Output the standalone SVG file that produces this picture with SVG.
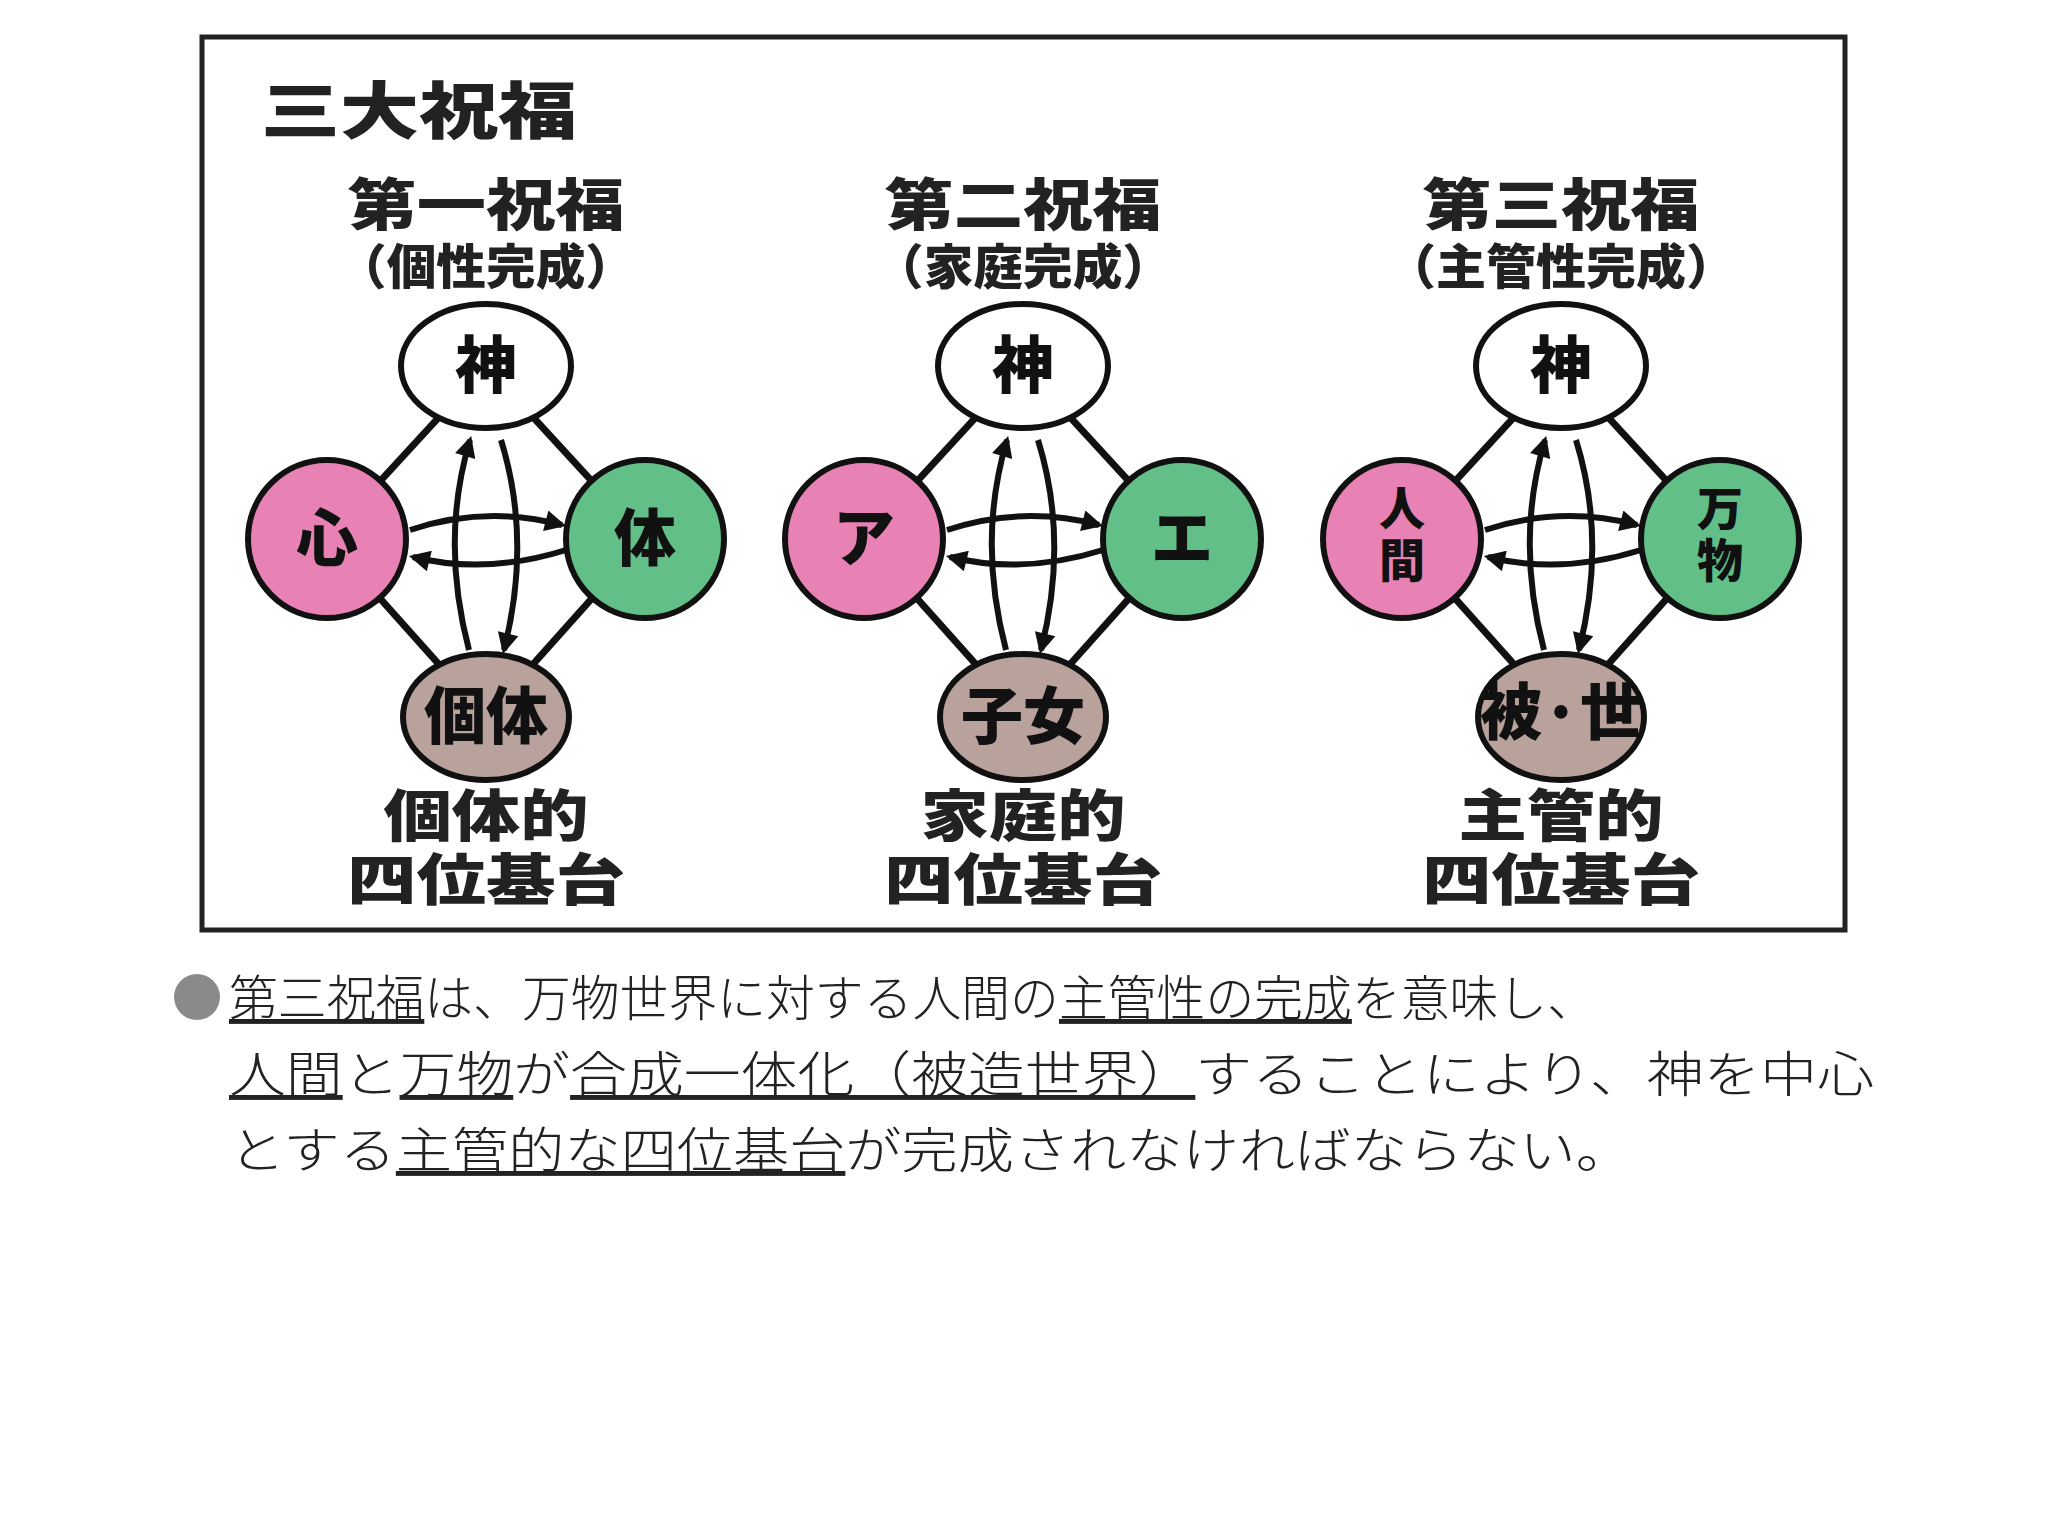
<svg xmlns="http://www.w3.org/2000/svg" width="2048" height="1536" viewBox="0 0 2048 1536">
<style>
.h{font-family:"Noto Sans CJK JP","Noto Sans CJK SC",sans-serif;font-weight:900;fill:#222;text-anchor:middle}
.n{font-family:"Noto Sans CJK JP","Noto Sans CJK SC",sans-serif;font-weight:900;fill:#111;text-anchor:middle;font-size:62px}
.n2{font-family:"Noto Sans CJK JP","Noto Sans CJK SC",sans-serif;font-weight:900;fill:#111;text-anchor:middle;font-size:46px}
.c{stroke:#111;stroke-width:6}
.w{fill:#fff}.p{fill:#e882b4}.g{fill:#62bf88}.b{fill:#b9a29b}
.e{stroke:#111;stroke-width:7}
.a{stroke:#111;stroke-width:6;fill:none;marker-end:url(#ah)}
.t{font-family:"Noto Sans CJK JP","Noto Sans CJK SC",sans-serif;font-weight:300;font-size:49px;fill:#222}
.ul{text-decoration:underline}
</style>
<defs>
<marker id="ah" viewBox="0 0 10 10" refX="8" refY="5" markerWidth="4" markerHeight="3.5" orient="auto"><path d="M0,0 L10,5 L0,10 z" fill="#111"/></marker>
</defs>
<rect width="2048" height="1536" fill="#fff"/>
<rect x="202" y="37" width="1643" height="893" fill="none" stroke="#222" stroke-width="5"/>
<text x="261" y="134" class="h" style="text-anchor:start;font-size:62px" textLength="316" lengthAdjust="spacingAndGlyphs">三大祝福</text>

<g id="d1">
<text x="486" y="225" class="h" font-size="56" textLength="277" lengthAdjust="spacingAndGlyphs">第一祝福</text>
<text x="486" y="284" class="h" font-size="48" textLength="298" lengthAdjust="spacingAndGlyphs">（個性完成）</text>
<text x="486" y="836" class="h" font-size="56" textLength="205" lengthAdjust="spacingAndGlyphs">個体的</text>
<text x="486" y="900" class="h" font-size="56" textLength="278" lengthAdjust="spacingAndGlyphs">四位基台</text>
</g>
<g id="d2">
<text x="1023" y="225" class="h" font-size="56" textLength="277" lengthAdjust="spacingAndGlyphs">第二祝福</text>
<text x="1023" y="284" class="h" font-size="48" textLength="298" lengthAdjust="spacingAndGlyphs">（家庭完成）</text>
<text x="1023" y="836" class="h" font-size="56" textLength="205" lengthAdjust="spacingAndGlyphs">家庭的</text>
<text x="1023" y="900" class="h" font-size="56" textLength="278" lengthAdjust="spacingAndGlyphs">四位基台</text>
</g>
<g id="d3">
<text x="1561" y="225" class="h" font-size="56" textLength="277" lengthAdjust="spacingAndGlyphs">第三祝福</text>
<text x="1561" y="284" class="h" font-size="48" textLength="350" lengthAdjust="spacingAndGlyphs">（主管性完成）</text>
<text x="1561" y="836" class="h" font-size="56" textLength="205" lengthAdjust="spacingAndGlyphs">主管的</text>
<text x="1561" y="900" class="h" font-size="56" textLength="278" lengthAdjust="spacingAndGlyphs">四位基台</text>
</g>

<g id="connectors">
<g transform="translate(0,0)">
<path class="e" d="M486 366 L327 539 L486 717 L645 539 Z" fill="none"/>
<path class="a" d="M469 650 Q440 540 470 440"/><path class="a" d="M501 440 Q532 540 504 650"/>
<path class="a" d="M410 530 Q486 505 562 525"/><path class="a" d="M566 550 Q486 575 413 557"/>
</g>
<g transform="translate(537,0)">
<path class="e" d="M486 366 L327 539 L486 717 L645 539 Z" fill="none"/>
<path class="a" d="M469 650 Q440 540 470 440"/><path class="a" d="M501 440 Q532 540 504 650"/>
<path class="a" d="M410 530 Q486 505 562 525"/><path class="a" d="M566 550 Q486 575 413 557"/>
</g>
<g transform="translate(1075,0)">
<path class="e" d="M486 366 L327 539 L486 717 L645 539 Z" fill="none"/>
<path class="a" d="M469 650 Q440 540 470 440"/><path class="a" d="M501 440 Q532 540 504 650"/>
<path class="a" d="M410 530 Q486 505 562 525"/><path class="a" d="M566 550 Q486 575 413 557"/>
</g>
</g>

<g id="n1-god"><ellipse cx="486" cy="366" rx="85" ry="62" class="c w"/><text x="486" y="388" class="n">神</text></g>
<g id="n1-left"><circle cx="327" cy="539" r="79" class="c p"/><text x="327" y="561" class="n">心</text></g>
<g id="n1-right"><circle cx="645" cy="539" r="79" class="c g"/><text x="645" y="561" class="n">体</text></g>
<g id="n1-bottom"><ellipse cx="486" cy="717" rx="83" ry="63" class="c b"/><text x="486" y="739" class="n">個体</text></g>

<g id="n2-god"><ellipse cx="1023" cy="366" rx="85" ry="62" class="c w"/><text x="1023" y="388" class="n">神</text></g>
<g id="n2-left"><circle cx="864" cy="539" r="79" class="c p"/><text x="864" y="561" class="n">ア</text></g>
<g id="n2-right"><circle cx="1182" cy="539" r="79" class="c g"/><text x="1182" y="561" class="n">エ</text></g>
<g id="n2-bottom"><ellipse cx="1023" cy="717" rx="83" ry="63" class="c b"/><text x="1023" y="739" class="n">子女</text></g>

<g id="n3-god"><ellipse cx="1561" cy="366" rx="85" ry="62" class="c w"/><text x="1561" y="388" class="n">神</text></g>
<g id="n3-left"><circle cx="1402" cy="539" r="79" class="c p"/><text x="1402" y="525" class="n2">人</text><text x="1402" y="577" class="n2">間</text></g>
<g id="n3-right"><circle cx="1720" cy="539" r="79" class="c g"/><text x="1720" y="525" class="n2">万</text><text x="1720" y="577" class="n2">物</text></g>
<g id="n3-bottom"><ellipse cx="1561" cy="717" rx="83" ry="63" class="c b"/><text x="1561" y="735" class="n" font-size="50">被·世</text></g>

<circle cx="197" cy="997" r="23" fill="#8a8a8a"/>
<text x="229" y="1016" class="t" textLength="1367" lengthAdjust="spacingAndGlyphs"><tspan class="ul">第三祝福</tspan>は、万物世界に対する人間の<tspan class="ul">主管性の完成</tspan>を意味し、</text>
<text x="229" y="1092" class="t" textLength="1645" lengthAdjust="spacingAndGlyphs"><tspan class="ul">人間</tspan>と<tspan class="ul">万物</tspan>が<tspan class="ul">合成一体化（被造世界）</tspan>することにより、神を中心</text>
<text x="229" y="1168" class="t" textLength="1403" lengthAdjust="spacingAndGlyphs">とする<tspan class="ul">主管的な四位基台</tspan>が完成されなければならない。</text>
</svg>
